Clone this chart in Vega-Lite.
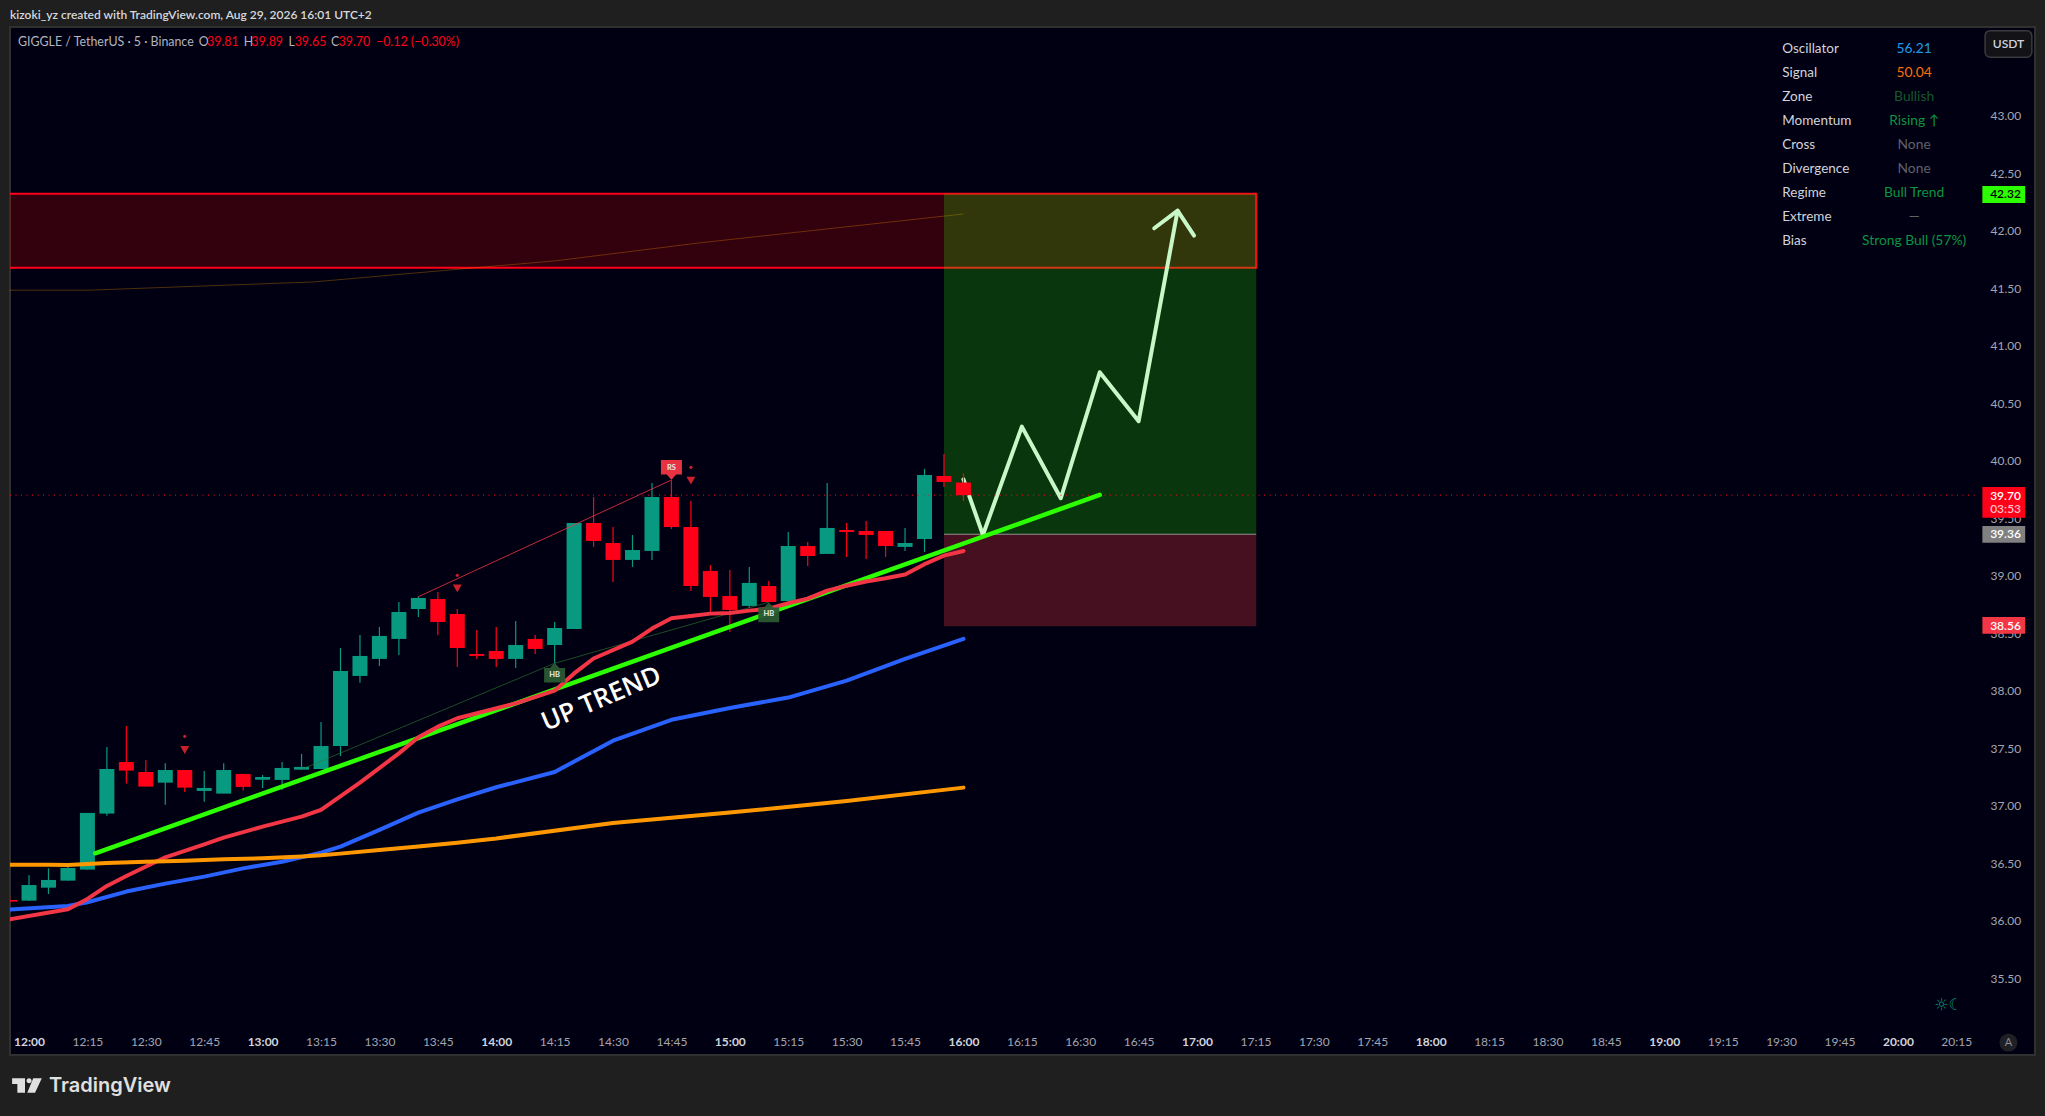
{
"$schema":"https://vega.github.io/schema/vega-lite/v6.json",
"width":2025,"height":1028,
"autosize":{"type":"none"},
"padding":{"left":10,"top":27,"right":10,"bottom":61},
"background":"#1f1f1f",
"view":{"fill":"#010012","stroke":"#303030","strokeWidth":2},
"title":{"text":"kizoki_yz created with TradingView.com, Aug 29, 2026 16:01 UTC+2","anchor":"start","frame":"group","orient":"top","offset":5,"font":"Lato","fontSize":12,"fontWeight":600,"color":"#d6d8de"},
"datasets":{
"zones":[
{"zone":"supply","t":"2026-08-29T11:50:00","t2":"2026-08-29T17:15:12","price":42.32,"price2":41.678}
],
"boxes":[
{"zone":"reward","t":"2026-08-29T15:55:00","t2":"2026-08-29T17:15:12","price":42.32,"price2":39.36},
{"zone":"risk","t":"2026-08-29T15:55:00","t2":"2026-08-29T17:15:12","price":39.36,"price2":38.56}
],
"candles":[
{"t":"2026-08-29T11:55","price":36.18,"high":36.23,"low":36.15,"price2":36.166,"direction":"down"},
{"t":"2026-08-29T12:00","price":36.174,"high":36.395,"low":36.174,"price2":36.31,"direction":"up"},
{"t":"2026-08-29T12:05","price":36.287,"high":36.455,"low":36.232,"price2":36.354,"direction":"up"},
{"t":"2026-08-29T12:10","price":36.348,"high":36.493,"low":36.348,"price2":36.458,"direction":"up"},
{"t":"2026-08-29T12:15","price":36.444,"high":36.937,"low":36.444,"price2":36.937,"direction":"up"},
{"t":"2026-08-29T12:20","price":36.931,"high":37.51,"low":36.913,"price2":37.319,"direction":"up"},
{"t":"2026-08-29T12:25","price":37.38,"high":37.693,"low":37.192,"price2":37.305,"direction":"down"},
{"t":"2026-08-29T12:30","price":37.293,"high":37.397,"low":37.166,"price2":37.166,"direction":"down"},
{"t":"2026-08-29T12:35","price":37.2,"high":37.37,"low":37.009,"price2":37.31,"direction":"up"},
{"t":"2026-08-29T12:40","price":37.31,"high":37.31,"low":37.119,"price2":37.157,"direction":"down"},
{"t":"2026-08-29T12:45","price":37.128,"high":37.302,"low":37.035,"price2":37.154,"direction":"up"},
{"t":"2026-08-29T12:50","price":37.105,"high":37.37,"low":37.105,"price2":37.31,"direction":"up"},
{"t":"2026-08-29T12:55","price":37.276,"high":37.276,"low":37.131,"price2":37.163,"direction":"down"},
{"t":"2026-08-29T13:00","price":37.226,"high":37.267,"low":37.154,"price2":37.25,"direction":"up"},
{"t":"2026-08-29T13:05","price":37.224,"high":37.38,"low":37.137,"price2":37.328,"direction":"up"},
{"t":"2026-08-29T13:10","price":37.313,"high":37.45,"low":37.313,"price2":37.337,"direction":"up"},
{"t":"2026-08-29T13:15","price":37.319,"high":37.728,"low":37.319,"price2":37.519,"direction":"up"},
{"t":"2026-08-29T13:20","price":37.519,"high":38.371,"low":37.432,"price2":38.171,"direction":"up"},
{"t":"2026-08-29T13:25","price":38.128,"high":38.484,"low":38.07,"price2":38.302,"direction":"up"},
{"t":"2026-08-29T13:30","price":38.276,"high":38.554,"low":38.215,"price2":38.476,"direction":"up"},
{"t":"2026-08-29T13:35","price":38.45,"high":38.771,"low":38.31,"price2":38.684,"direction":"up"},
{"t":"2026-08-29T13:40","price":38.71,"high":38.818,"low":38.641,"price2":38.806,"direction":"up"},
{"t":"2026-08-29T13:45","price":38.797,"high":38.858,"low":38.484,"price2":38.597,"direction":"down"},
{"t":"2026-08-29T13:50","price":38.667,"high":38.71,"low":38.206,"price2":38.371,"direction":"down"},
{"t":"2026-08-29T13:55","price":38.319,"high":38.528,"low":38.276,"price2":38.302,"direction":"down"},
{"t":"2026-08-29T14:00","price":38.345,"high":38.554,"low":38.206,"price2":38.276,"direction":"down"},
{"t":"2026-08-29T14:05","price":38.276,"high":38.606,"low":38.197,"price2":38.397,"direction":"up"},
{"t":"2026-08-29T14:10","price":38.45,"high":38.484,"low":38.319,"price2":38.363,"direction":"down"},
{"t":"2026-08-29T14:15","price":38.397,"high":38.597,"low":38.238,"price2":38.545,"direction":"up"},
{"t":"2026-08-29T14:20","price":38.536,"high":39.458,"low":38.536,"price2":39.458,"direction":"up"},
{"t":"2026-08-29T14:25","price":39.458,"high":39.684,"low":39.25,"price2":39.302,"direction":"down"},
{"t":"2026-08-29T14:30","price":39.284,"high":39.423,"low":38.945,"price2":39.137,"direction":"down"},
{"t":"2026-08-29T14:35","price":39.137,"high":39.354,"low":39.076,"price2":39.223,"direction":"up"},
{"t":"2026-08-29T14:40","price":39.215,"high":39.806,"low":39.137,"price2":39.684,"direction":"up"},
{"t":"2026-08-29T14:45","price":39.684,"high":39.83,"low":39.406,"price2":39.423,"direction":"down"},
{"t":"2026-08-29T14:50","price":39.423,"high":39.65,"low":38.867,"price2":38.91,"direction":"down"},
{"t":"2026-08-29T14:55","price":39.041,"high":39.093,"low":38.667,"price2":38.815,"direction":"down"},
{"t":"2026-08-29T15:00","price":38.823,"high":39.05,"low":38.51,"price2":38.702,"direction":"down"},
{"t":"2026-08-29T15:05","price":38.737,"high":39.076,"low":38.72,"price2":38.937,"direction":"up"},
{"t":"2026-08-29T15:10","price":38.91,"high":38.954,"low":38.771,"price2":38.771,"direction":"down"},
{"t":"2026-08-29T15:15","price":38.78,"high":39.38,"low":38.78,"price2":39.258,"direction":"up"},
{"t":"2026-08-29T15:20","price":39.258,"high":39.293,"low":39.084,"price2":39.171,"direction":"down"},
{"t":"2026-08-29T15:25","price":39.189,"high":39.806,"low":39.189,"price2":39.415,"direction":"up"},
{"t":"2026-08-29T15:30","price":39.397,"high":39.458,"low":39.163,"price2":39.38,"direction":"down"},
{"t":"2026-08-29T15:35","price":39.389,"high":39.476,"low":39.145,"price2":39.354,"direction":"down"},
{"t":"2026-08-29T15:40","price":39.389,"high":39.389,"low":39.163,"price2":39.258,"direction":"down"},
{"t":"2026-08-29T15:45","price":39.25,"high":39.415,"low":39.215,"price2":39.284,"direction":"up"},
{"t":"2026-08-29T15:50","price":39.319,"high":39.928,"low":39.206,"price2":39.876,"direction":"up"},
{"t":"2026-08-29T15:55","price":39.867,"high":40.058,"low":39.771,"price2":39.815,"direction":"down"},
{"t":"2026-08-29T16:00","price":39.81,"high":39.89,"low":39.65,"price2":39.7,"direction":"down"}
],
"forecast":[
{"leg":"path","t":"2026-08-29T16:00","price":39.838},
{"leg":"path","t":"2026-08-29T16:05","price":39.354},
{"leg":"path","t":"2026-08-29T16:15","price":40.296},
{"leg":"path","t":"2026-08-29T16:25","price":39.673},
{"leg":"path","t":"2026-08-29T16:35","price":40.769},
{"leg":"path","t":"2026-08-29T16:45","price":40.343},
{"leg":"path","t":"2026-08-29T16:55","price":42.174},
{"leg":"head","t":"2026-08-29T16:49","price":42.021},
{"leg":"head","t":"2026-08-29T16:55","price":42.174},
{"leg":"head","t":"2026-08-29T16:59:14","price":41.957}
],
"lines":[
{"series":"long","t":"2026-08-29T11:55","price":41.482},
{"series":"long","t":"2026-08-29T12:15","price":41.482},
{"series":"long","t":"2026-08-29T13:13","price":41.554},
{"series":"long","t":"2026-08-29T13:54","price":41.676},
{"series":"long","t":"2026-08-29T14:15","price":41.737},
{"series":"long","t":"2026-08-29T14:52","price":41.893},
{"series":"long","t":"2026-08-29T16:00","price":42.145},
{"series":"resistance","t":"2026-08-29T13:40","price":38.817},
{"series":"resistance","t":"2026-08-29T14:45","price":39.832},
{"series":"support","t":"2026-08-29T13:10","price":37.316},
{"series":"support","t":"2026-08-29T14:15","price":38.238},
{"series":"support","t":"2026-08-29T15:10","price":38.77},
{"series":"trend","t":"2026-08-29T12:17","price":36.586},
{"series":"trend","t":"2026-08-29T16:35","price":39.702},
{"series":"blue","t":"2026-08-29T11:55","price":36.096},
{"series":"blue","t":"2026-08-29T12:10","price":36.128},
{"series":"blue","t":"2026-08-29T12:15","price":36.16},
{"series":"blue","t":"2026-08-29T12:25","price":36.253},
{"series":"blue","t":"2026-08-29T12:35","price":36.322},
{"series":"blue","t":"2026-08-29T12:45","price":36.383},
{"series":"blue","t":"2026-08-29T12:55","price":36.455},
{"series":"blue","t":"2026-08-29T13:05","price":36.513},
{"series":"blue","t":"2026-08-29T13:15","price":36.592},
{"series":"blue","t":"2026-08-29T13:20","price":36.644},
{"series":"blue","t":"2026-08-29T13:30","price":36.789},
{"series":"blue","t":"2026-08-29T13:40","price":36.94},
{"series":"blue","t":"2026-08-29T13:50","price":37.055},
{"series":"blue","t":"2026-08-29T14:00","price":37.16},
{"series":"blue","t":"2026-08-29T14:15","price":37.293},
{"series":"blue","t":"2026-08-29T14:30","price":37.565},
{"series":"blue","t":"2026-08-29T14:45","price":37.747},
{"series":"blue","t":"2026-08-29T15:00","price":37.85},
{"series":"blue","t":"2026-08-29T15:15","price":37.94},
{"series":"blue","t":"2026-08-29T15:30","price":38.087},
{"series":"blue","t":"2026-08-29T15:45","price":38.276},
{"series":"blue","t":"2026-08-29T16:00","price":38.45},
{"series":"red","t":"2026-08-29T11:55","price":36.012},
{"series":"red","t":"2026-08-29T12:10","price":36.099},
{"series":"red","t":"2026-08-29T12:15","price":36.189},
{"series":"red","t":"2026-08-29T12:20","price":36.302},
{"series":"red","t":"2026-08-29T12:25","price":36.389},
{"series":"red","t":"2026-08-29T12:35","price":36.551},
{"series":"red","t":"2026-08-29T12:45","price":36.664},
{"series":"red","t":"2026-08-29T12:50","price":36.722},
{"series":"red","t":"2026-08-29T13:00","price":36.818},
{"series":"red","t":"2026-08-29T13:10","price":36.905},
{"series":"red","t":"2026-08-29T13:15","price":36.963},
{"series":"red","t":"2026-08-29T13:25","price":37.2},
{"series":"red","t":"2026-08-29T13:35","price":37.455},
{"series":"red","t":"2026-08-29T13:40","price":37.595},
{"series":"red","t":"2026-08-29T13:45","price":37.687},
{"series":"red","t":"2026-08-29T13:50","price":37.76},
{"series":"red","t":"2026-08-29T14:05","price":37.89},
{"series":"red","t":"2026-08-29T14:15","price":38.0},
{"series":"red","t":"2026-08-29T14:20","price":38.15},
{"series":"red","t":"2026-08-29T14:25","price":38.28},
{"series":"red","t":"2026-08-29T14:35","price":38.426},
{"series":"red","t":"2026-08-29T14:40","price":38.54},
{"series":"red","t":"2026-08-29T14:45","price":38.63},
{"series":"red","t":"2026-08-29T14:50","price":38.65},
{"series":"red","t":"2026-08-29T14:55","price":38.67},
{"series":"red","t":"2026-08-29T15:00","price":38.676},
{"series":"red","t":"2026-08-29T15:05","price":38.696},
{"series":"red","t":"2026-08-29T15:10","price":38.713},
{"series":"red","t":"2026-08-29T15:15","price":38.76},
{"series":"red","t":"2026-08-29T15:20","price":38.8},
{"series":"red","t":"2026-08-29T15:25","price":38.87},
{"series":"red","t":"2026-08-29T15:30","price":38.913},
{"series":"red","t":"2026-08-29T15:35","price":38.95},
{"series":"red","t":"2026-08-29T15:40","price":38.977},
{"series":"red","t":"2026-08-29T15:45","price":39.01},
{"series":"red","t":"2026-08-29T15:50","price":39.1},
{"series":"red","t":"2026-08-29T15:55","price":39.174},
{"series":"red","t":"2026-08-29T16:00","price":39.215},
{"series":"orange","t":"2026-08-29T11:55","price":36.487},
{"series":"orange","t":"2026-08-29T12:05","price":36.487},
{"series":"orange","t":"2026-08-29T12:10","price":36.484},
{"series":"orange","t":"2026-08-29T12:15","price":36.493},
{"series":"orange","t":"2026-08-29T12:20","price":36.502},
{"series":"orange","t":"2026-08-29T12:30","price":36.513},
{"series":"orange","t":"2026-08-29T12:40","price":36.522},
{"series":"orange","t":"2026-08-29T12:50","price":36.534},
{"series":"orange","t":"2026-08-29T13:00","price":36.542},
{"series":"orange","t":"2026-08-29T13:10","price":36.557},
{"series":"orange","t":"2026-08-29T13:15","price":36.568},
{"series":"orange","t":"2026-08-29T13:20","price":36.583},
{"series":"orange","t":"2026-08-29T13:30","price":36.615},
{"series":"orange","t":"2026-08-29T13:40","price":36.644},
{"series":"orange","t":"2026-08-29T13:50","price":36.678},
{"series":"orange","t":"2026-08-29T14:00","price":36.715},
{"series":"orange","t":"2026-08-29T14:30","price":36.85},
{"series":"orange","t":"2026-08-29T15:00","price":36.94},
{"series":"orange","t":"2026-08-29T15:30","price":37.04},
{"series":"orange","t":"2026-08-29T16:00","price":37.157}
],
"signals":[
{"kind":"sell","t":"2026-08-29T12:40","price":37.484},
{"kind":"dot","t":"2026-08-29T12:40","price":37.603},
{"kind":"sell","t":"2026-08-29T13:50","price":38.89},
{"kind":"dot","t":"2026-08-29T13:50","price":39.003},
{"kind":"sell","t":"2026-08-29T14:50","price":39.826},
{"kind":"dot","t":"2026-08-29T14:50","price":39.942}
],
"tags":[
{"kind":"HB","t":"2026-08-29T14:15","price":38.157},
{"kind":"HB","t":"2026-08-29T15:10","price":38.682},
{"kind":"RS","t":"2026-08-29T14:45","price":39.92}
],
"tagLabels":[
{"label":"HB","t":"2026-08-29T14:15","price":38.136},
{"label":"HB","t":"2026-08-29T15:10","price":38.663},
{"label":"RS","t":"2026-08-29T14:45","price":39.939}
],
"tableNames":[
{"label":"Oscillator","t":"2026-08-29T19:30:18","price":43.586},
{"label":"Signal","t":"2026-08-29T19:30:18","price":43.377},
{"label":"Zone","t":"2026-08-29T19:30:18","price":43.168},
{"label":"Momentum","t":"2026-08-29T19:30:18","price":42.96},
{"label":"Cross","t":"2026-08-29T19:30:18","price":42.751},
{"label":"Divergence","t":"2026-08-29T19:30:18","price":42.542},
{"label":"Regime","t":"2026-08-29T19:30:18","price":42.334},
{"label":"Extreme","t":"2026-08-29T19:30:18","price":42.125},
{"label":"Bias","t":"2026-08-29T19:30:18","price":41.916}
],
"tableValues":[
{"label":"56.21","tone":"oscillator","t":"2026-08-29T20:04:10","price":43.586},
{"label":"50.04","tone":"signal","t":"2026-08-29T20:04:10","price":43.377},
{"label":"Bullish","tone":"zone","t":"2026-08-29T20:04:10","price":43.168},
{"label":"Rising ↑","tone":"bull","t":"2026-08-29T20:04:10","price":42.96},
{"label":"None","tone":"none","t":"2026-08-29T20:04:10","price":42.751},
{"label":"None","tone":"none","t":"2026-08-29T20:04:10","price":42.542},
{"label":"Bull Trend","tone":"bull","t":"2026-08-29T20:04:10","price":42.334},
{"label":"—","tone":"none","t":"2026-08-29T20:04:10","price":42.125},
{"label":"Strong Bull (57%)","tone":"bull","t":"2026-08-29T20:04:10","price":41.916}
],
"legend":[
{"label":"GIGGLE / TetherUS · 5 · Binance","tone":"name","t":"2026-08-29T11:57:10","price":43.643},
{"label":"O","tone":"name","t":"2026-08-29T12:43:36","price":43.643},
{"label":"39.81","tone":"value","t":"2026-08-29T12:45:43","price":43.643},
{"label":"H","tone":"name","t":"2026-08-29T12:55:11","price":43.643},
{"label":"39.89","tone":"value","t":"2026-08-29T12:57:06","price":43.643},
{"label":"L","tone":"name","t":"2026-08-29T13:06:38","price":43.643},
{"label":"39.65","tone":"value","t":"2026-08-29T13:08:14","price":43.643},
{"label":"C","tone":"name","t":"2026-08-29T13:17:34","price":43.643},
{"label":"39.70","tone":"value","t":"2026-08-29T13:19:29","price":43.643},
{"label":"−0.12 (−0.30%)","tone":"value","t":"2026-08-29T13:29:07","price":43.643}
],
"priceTags":[
{"tag":"target","t":"2026-08-29T20:21:42","t2":"2026-08-29T20:32:42","price":42.389,"price2":42.241},
{"tag":"last","t":"2026-08-29T20:21:42","t2":"2026-08-29T20:32:42","price":39.771,"price2":39.504},
{"tag":"entry","t":"2026-08-29T20:21:42","t2":"2026-08-29T20:32:42","price":39.432,"price2":39.287},
{"tag":"stop","t":"2026-08-29T20:21:42","t2":"2026-08-29T20:32:42","price":38.641,"price2":38.496}
],
"priceTagLabels":[
{"label":"42.32","tone":"dark","t":"2026-08-29T20:23:42","price":42.32},
{"label":"39.70","tone":"light","t":"2026-08-29T20:23:42","price":39.696},
{"label":"03:53","tone":"soft","t":"2026-08-29T20:23:42","price":39.578},
{"label":"39.36","tone":"light","t":"2026-08-29T20:23:42","price":39.36},
{"label":"38.56","tone":"light","t":"2026-08-29T20:23:42","price":38.56}
]
},
"encoding":{
"x":{"field":"t","type":"temporal","title":null,
"scale":{"domain":["2026-08-29T11:55:07","2026-08-29T20:35:13"],"nice":false,"padding":0},
"axis":{"orient":"bottom","offset":-13.3,"domain":false,"ticks":false,"grid":false,"labelPadding":0,"labelBaseline":"middle","labelFont":"Lato","labelFontSize":12,"labelOverlap":false,"labelFlush":false,"labelBound":false,"format":"%H:%M",
"labelColor":{"condition":{"test":"minutes(datum.value)===0","value":"#d1d4dc"},"value":"#a3a6af"},
"labelFontWeight":{"condition":{"test":"minutes(datum.value)===0","value":700},"value":400},
"values":["2026-08-29T12:00","2026-08-29T12:15","2026-08-29T12:30","2026-08-29T12:45","2026-08-29T13:00","2026-08-29T13:15","2026-08-29T13:30","2026-08-29T13:45","2026-08-29T14:00","2026-08-29T14:15","2026-08-29T14:30","2026-08-29T14:45","2026-08-29T15:00","2026-08-29T15:15","2026-08-29T15:30","2026-08-29T15:45","2026-08-29T16:00","2026-08-29T16:15","2026-08-29T16:30","2026-08-29T16:45","2026-08-29T17:00","2026-08-29T17:15","2026-08-29T17:30","2026-08-29T17:45","2026-08-29T18:00","2026-08-29T18:15","2026-08-29T18:30","2026-08-29T18:45","2026-08-29T19:00","2026-08-29T19:15","2026-08-29T19:30","2026-08-29T19:45","2026-08-29T20:00","2026-08-29T20:15"]}},
"y":{"field":"price","type":"quantitative","title":null,
"scale":{"domain":[34.832,43.771],"nice":false,"zero":false},
"axis":{"orient":"right","offset":-45,"domain":false,"ticks":false,"grid":false,"labelPadding":0,"labelFont":"Lato","labelFontSize":12,"labelColor":"#a3a6af","labelOverlap":false,"labelBound":false,"format":".2f","values":[35.5,36,36.5,37,37.5,38,38.5,39,39.5,40,40.5,41,41.5,42,42.5,43]}}
},
"resolve":{"scale":{"color":"independent","opacity":"independent","size":"independent","shape":"independent"}},
"layer":[
{"data":{"name":"zones"},"mark":{"type":"rect","fill":"#ff0000","fillOpacity":0.2,"stroke":"#ff0018","strokeWidth":2,"clip":true},"encoding":{"x2":{"field":"t2"},"y2":{"field":"price2"}}},
{"data":{"name":"lines"},"transform":[{"filter":"datum.series==='long'"}],"mark":{"type":"line","color":"#ff9800","opacity":0.3,"strokeWidth":1}},
{"data":{"name":"boxes"},"mark":{"type":"rect"},"encoding":{"x2":{"field":"t2"},"y2":{"field":"price2"},
"color":{"field":"zone","scale":{"domain":["reward","risk"],"range":["#2eff00","#f23645"]},"legend":null},
"opacity":{"field":"zone","scale":{"domain":["reward","risk"],"range":[0.21,0.29]},"legend":null}}},
{"data":{"name":"boxes"},"transform":[{"filter":"datum.zone==='risk'"}],"mark":{"type":"rule","color":"#8f8f8f","strokeWidth":1.2},"encoding":{"x2":{"field":"t2"}}},
{"data":{"name":"forecast"},"mark":{"type":"line","color":"#c9f8c8","strokeWidth":4,"strokeCap":"round","strokeJoin":"round"},"encoding":{"detail":{"field":"leg"}}},
{"data":{"name":"candles"},"transform":[{"fold":["low","high"],"as":["end","price"]}],"mark":{"type":"line","strokeWidth":1.2,"clip":true},"encoding":{"detail":{"field":"t","type":"temporal"},
"color":{"field":"direction","scale":{"domain":["up","down"],"range":["#089981","#ff0018"]},"legend":null}}},
{"data":{"name":"candles"},"mark":{"type":"bar","width":15,"clip":true},"encoding":{"y2":{"field":"price2"},
"color":{"field":"direction","scale":{"domain":["up","down"],"range":["#089981","#ff0018"]},"legend":null}}},
{"data":{"values":[{"t":"2026-08-29T11:55:07","t2":"2026-08-29T20:20:36","price":39.7}]},"mark":{"type":"rule","color":"#ff0018","strokeWidth":1,"strokeDash":[1,4.5]},"encoding":{"x2":{"field":"t2"}}},
{"data":{"name":"lines"},"transform":[{"filter":"datum.series==='resistance'"}],"mark":{"type":"line","color":"#f23645","opacity":0.8,"strokeWidth":1}},
{"data":{"name":"lines"},"transform":[{"filter":"datum.series==='support'"}],"mark":{"type":"line","color":"#2e7d32","opacity":0.6,"strokeWidth":1}},
{"data":{"name":"lines"},"transform":[{"filter":"datum.series==='trend'"}],"mark":{"type":"line","color":"#2bff00","strokeWidth":4.5,"strokeCap":"round"}},
{"data":{"name":"lines"},"transform":[{"filter":"datum.series==='blue'"}],"mark":{"type":"line","color":"#2962ff","strokeWidth":4,"strokeCap":"round","strokeJoin":"round","clip":true}},
{"data":{"name":"lines"},"transform":[{"filter":"datum.series==='red'"}],"mark":{"type":"line","color":"#f23645","strokeWidth":4,"strokeCap":"round","strokeJoin":"round","clip":true}},
{"data":{"name":"lines"},"transform":[{"filter":"datum.series==='orange'"}],"mark":{"type":"line","color":"#ff9800","strokeWidth":4,"strokeCap":"round","strokeJoin":"round","clip":true}},
{"data":{"name":"signals"},"mark":{"type":"point","filled":true,"opacity":1,"color":"#c9202a"},"encoding":{
"shape":{"field":"kind","scale":{"domain":["sell","dot"],"range":["triangle-down","circle"]},"legend":null},
"size":{"field":"kind","scale":{"domain":["sell","dot"],"range":[81,10]},"legend":null}}},
{"data":{"name":"tags"},"mark":{"type":"point","filled":true,"opacity":0.95,"size":441},"encoding":{
"shape":{"field":"kind","scale":{"domain":["HB","RS"],"range":["M0,-0.95 L0.45,-0.45 L1,-0.45 L1,0.95 L-1,0.95 L-1,-0.45 L-0.45,-0.45 Z","M0,0.95 L0.45,0.45 L1,0.45 L1,-0.95 L-1,-0.95 L-1,0.45 L-0.45,0.45 Z"]},"legend":null},
"color":{"field":"kind","scale":{"domain":["HB","RS"],"range":["#2a5a33","#f23645"]},"legend":null}}},
{"data":{"name":"tagLabels"},"mark":{"type":"text","font":"Lato","fontSize":7.5,"fontWeight":700,"color":"#e8ece8","baseline":"middle"},"encoding":{"text":{"field":"label"}}},
{"data":{"values":[{"label":"UP TREND","t":"2026-08-29T14:27","price":37.928}]},"mark":{"type":"text","font":"Open Sans","fontSize":26,"fontWeight":600,"angle":337,"color":"#ffffff","baseline":"middle"},"encoding":{"text":{"field":"label"}}},
{"data":{"name":"tableNames"},"mark":{"type":"text","font":"Lato","fontSize":13.5,"dy":1,"color":"#d1d4dc","align":"left","baseline":"middle"},"encoding":{"text":{"field":"label"}}},
{"data":{"name":"tableValues"},"mark":{"type":"text","font":"Lato","fontSize":13.8,"dy":1,"align":"center","baseline":"middle"},"encoding":{"text":{"field":"label"},
"color":{"field":"tone","scale":{"domain":["oscillator","signal","zone","bull","none"],"range":["#1e9be8","#ff6d0a","#14592c","#0b9444","#5f616b"]},"legend":null}}},
{"data":{"name":"legend"},"mark":{"type":"text","font":"Lato","fontSize":12.4,"dy":0.5,"align":"left","baseline":"middle"},"encoding":{"text":{"field":"label"},
"color":{"field":"tone","scale":{"domain":["name","value"],"range":["#b2b5be","#ff0018"]},"legend":null}}},
{"data":{"name":"priceTags"},"mark":{"type":"rect"},"encoding":{"x2":{"field":"t2"},"y2":{"field":"price2"},
"color":{"field":"tag","scale":{"domain":["target","last","entry","stop"],"range":["#2bff00","#ff0018","#808080","#f23645"]},"legend":null}}},
{"data":{"name":"priceTagLabels"},"mark":{"type":"text","font":"Lato","fontSize":12,"fontWeight":600,"align":"left","baseline":"middle"},"encoding":{"text":{"field":"label"},
"color":{"field":"tone","scale":{"domain":["dark","light","soft"],"range":["#000000","#ffffff","#ffc2c6"]},"legend":null}}},
{"data":{"values":[{"t":"2026-08-29T20:22:24","t2":"2026-08-29T20:34:24","price":43.739,"price2":43.508}]},"mark":{"type":"rect","fill":"#121217","stroke":"#3a3a3e","strokeWidth":1.5,"cornerRadius":5},"encoding":{"x2":{"field":"t2"},"y2":{"field":"price2"}}},
{"data":{"values":[{"label":"USDT","t":"2026-08-29T20:28:24","price":43.625}]},"mark":{"type":"text","font":"Lato","fontSize":12,"fontWeight":600,"color":"#d1d4dc","baseline":"middle"},"encoding":{"text":{"field":"label"}}},
{"data":{"values":[{"t":"2026-08-29T20:28:24","price":34.94}]},"mark":{"type":"point","filled":true,"opacity":1,"color":"#1f1f26","size":324}},
{"data":{"values":[{"label":"A","t":"2026-08-29T20:28:24","price":34.935}]},"mark":{"type":"text","font":"Lato","fontSize":11,"color":"#8a8a90","baseline":"middle"},"encoding":{"text":{"field":"label"}}},
{"data":{"values":[{"label":"☼☾","t":"2026-08-29T20:13:00","price":35.267}]},"mark":{"type":"text","font":"DejaVu Sans","fontSize":16,"color":"#0b8f78","baseline":"middle"},"encoding":{"text":{"field":"label"}}},
{"data":{"values":[{"t":"2026-08-29T11:59:26","price":34.567}]},"mark":{"type":"point","filled":true,"opacity":1,"color":"#e0e0e0","size":900,"shape":"M-0.98,-0.48 L-0.12,-0.48 L-0.12,0.48 L-0.63,0.48 L-0.63,-0.1 L-0.98,-0.1 Z M0.32,-0.32 A0.17,0.17 0 1 1 -0.02,-0.32 A0.17,0.17 0 1 1 0.32,-0.32 Z M0.43,-0.48 L1,-0.48 L0.55,0.48 L0.03,0.48 Z"}},
{"data":{"values":[{"label":"TradingView","t":"2026-08-29T12:05:08","price":34.563}]},"mark":{"type":"text","font":"Inter","fontSize":20,"fontWeight":600,"color":"#e0e0e0","align":"left","baseline":"middle"},"encoding":{"text":{"field":"label"}}}
]
}
